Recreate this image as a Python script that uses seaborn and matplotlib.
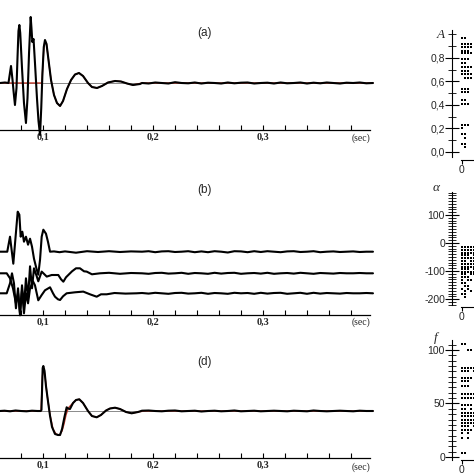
import numpy as np
import matplotlib
matplotlib.use("Agg")
import matplotlib.pyplot as plt
from matplotlib.ticker import MultipleLocator
import seaborn as sns

# ---------------- signal data (time in s, amplitude in arbitrary units) ----------------
TAIL_T = np.arange(0.19, 0.4005, 0.006)

A_T = [.0609, .0654, .0686, .0709, .0723, .0732, .0745, .0759, .0768, .0777, .0785, .0793,
       .0809, .0827, .0845, .0859, .0873, .0888, .0895, .0903, .0914, .0927, .0945, .0959,
       .0973, .0984, .0995, .1007, .1018, .1032, .1050, .1073, .1100, .1127, .1155, .1182,
       .1218, .1255, .1291, .1327, .1364, .1409, .1445, .1491, .1536, .1591, .1655, .1709,
       .1764, .1818, .1882]
A_V = [0, 0.05, 0, 1.7, 0.3, -0.8, -2.2, -0.5, 2.5, 5.2, 5.8, 5.0,
       1.5, -2.0, -4.0, -1.5, 3.0, 6.6, 5.5, 4.1, 4.4, 2.0, -1.5, -3.8,
       -5.2, -2.5, 1.0, 3.6, 4.3, 3.9, 2.3, 0.3, -1.2, -2.0, -2.3, -1.8,
       -0.6, 0.3, 0.85, 1.0, 0.7, 0.0, -0.4, -0.5, -0.3, 0.05, 0.2, 0.15,
       -0.05, -0.2, -0.1]
A_TAIL = [0.0, -0.05, 0.05, 0.0, -0.05, 0.08, 0.0, -0.03, 0.05, -0.05, 0.03, 0.0,
          -0.05, 0.05, -0.03, 0.03, 0.05, -0.05, 0.0, 0.03, -0.05, 0.05, -0.03, 0.0,
          0.05, -0.05, 0.03, -0.03, 0.05, 0.0, -0.05, 0.03, 0.0, 0.05, -0.03, 0.0]
A_RED_T = [.0609, .0990, .1007, .1018, .1032, .1050, .1073, .1100, .1127, .1155, .1182, .1218,
           .1255, .1291, .1327, .1364, .1409, .1445, .1491, .1536, .1591, .1655, .1709, .1764,
           .1818, .1900, .4000]
A_RED_V = [0, 0, 3.4, 4.2, 3.9, 2.3, 0.3, -1.2, -2.0, -2.3, -1.8, -0.6,
           0.3, 0.85, 1.0, 0.7, 0.0, -0.4, -0.5, -0.3, 0.05, 0.2, 0.15, -0.05,
           -0.2, 0, 0]

B_TOP_T = [.0609, .0675, .0700, .0730, .0770, .0785, .0797, .0812, .0827, .0845, .0864, .0882,
           .0900, .0918, .0943, .0957, .0973, .0988, .1003, .1027, .1045, .1064, .1100, .1150,
           .1200, .1300, .1400, .1500, .1600, .1700, .1800]
B_TOP_V = [0, 0, 1.5, -1.2, 4.0, 3.7, 1.5, 2.0, 1.0, 1.5, 0.7, 1.3,
           0.5, -0.7, -1.8, -2.3, -0.8, 1.5, 2.2, 1.8, 1.0, 0.0, 0.03, -0.05,
           0.03, -0.1, 0.05, -0.03, 0.05, -0.03, 0.03]
B_TOP_TAIL = [0.0, 0.05, -0.05, 0.03, 0.05, -0.03, 0.0, 0.05, -0.05, 0.03, -0.05, 0.05,
              0.0, -0.08, 0.05, 0.03, -0.05, 0.05, -0.03, 0.05, 0.0, -0.05, 0.03, 0.05,
              -0.03, 0.0, 0.05, -0.05, 0.0, 0.03, -0.03, 0.0, 0.03, -0.03, 0.0, 0.0]

B_MID_T = [.0609, .0670, .0700, .0727, .0754, .0773, .0791, .0809, .0827, .0845, .0864, .0882,
           .0900, .0918, .0943, .0957, .0988, .1034, .1079, .1139, .1164, .1185, .1209, .1230,
           .1264, .1300, .1336, .1373, .1397, .1445, .1518, .1600, .1700, .1800]
B_MID_V = [0, 0, -0.5, -1.5, -3.0, -2.0, -4.0, -1.2, -3.3, -0.5, -2.5, 0.7,
           -1.5, 0.5, -0.3, -0.8, 0.17, -0.33, -0.17, -0.17, -0.6, -0.84, -0.4, -0.17,
           0.2, 0.5, 0.5, 0.2, 0.17, -0.1, 0.0, 0.05, -0.05, 0.03]
B_MID_TAIL = [0.0, -0.05, 0.03, 0.05, -0.03, 0.0, 0.05, -0.05, 0.03, 0.0, -0.05, 0.05,
              -0.03, 0.03, 0.05, -0.05, 0.0, 0.03, -0.03, 0.05, -0.05, 0.0, 0.03, -0.03,
              0.05, 0.0, -0.05, 0.03, 0.0, -0.03, 0.03, 0.0, 0.0, 0.03, 0.0, 0.0]

B_BOT_T = [.0609, .0670, .0700, .0718, .0736, .0754, .0773, .0791, .0809, .0827, .0845, .0864,
           .0882, .0909, .0927, .0957, .0988, .1018, .1064, .1091, .1109, .1136, .1155, .1182,
           .1215, .1291, .1366, .1427, .1488, .1527, .1579, .1650, .1750, .1850]
B_BOT_V = [0, 0, 1.0, 2.0, 1.0, -1.5, 0.5, -2.2, 0.3, -2.0, 0.0, -1.0,
           0.5, 1.2, 0.8, -0.7, -0.17, 0.3, 0.6, 0.0, -0.34, -0.6, -0.67, -0.3,
           0.0, 0.1, 0.17, -0.1, -0.34, -0.1, -0.1, 0.03, -0.03, 0.0]
B_BOT_TAIL = [0.03, -0.03, 0.05, 0.0, -0.05, 0.03, 0.05, -0.03, 0.0, 0.05, -0.05, 0.03,
              0.0, -0.05, 0.05, 0.0, 0.03, -0.05, 0.05, -0.03, 0.03, 0.05, -0.05, 0.0,
              0.05, -0.05, 0.05, -0.03, 0.03, 0.0, -0.03, 0.03, 0.0, 0.0, 0.03, 0.0]
B_OFFSETS = [2.16, 0.0, -2.0]

D_T = [.0609, .0650, .0700, .0750, .0800, .0850, .0900, .0950, .0979, .0986, .0991, .0997,
       .1003, .1014, .1027, .1045, .1064, .1082, .1109, .1136, .1155, .1173, .1195, .1215,
       .1227, .1245, .1273, .1300, .1330, .1364, .1409, .1445, .1488, .1527, .1573, .1609,
       .1655, .1700, .1755, .1806, .1864]
D_V = [0, 0.03, -0.03, 0.05, 0, -0.03, 0.03, 0, 0, 0.1, 2.0, 4.3,
       4.5, 4.0, 2.5, 1.0, -0.5, -1.6, -2.3, -2.4, -2.4, -1.8, -0.6, 0.37,
       0.25, 0.2, 0.8, 1.1, 1.17, 0.8, 0.0, -0.5, -0.63, -0.4, 0.05, 0.25,
       0.33, 0.2, -0.1, -0.23, -0.1]
D_TAIL = [0.03, 0.05, 0.0, -0.03, 0.03, 0.05, -0.03, 0.0, 0.03, -0.05, 0.0, 0.03,
          -0.03, 0.0, 0.05, -0.03, 0.0, 0.03, -0.03, 0.0, 0.03, 0.0, -0.03, 0.03,
          0.0, -0.03, 0.05, 0.0, -0.03, 0.0, 0.03, 0.0, -0.03, 0.03, 0.0, 0.0]
D_RED_T = [.0609, .0982, .0995, .1005, .1018, .1036, .1064, .1091, .1118, .1150, .1173, .1191,
           .1209, .1230, .1255, .1273, .1300, .1330, .1364, .1409, .1445, .1488, .1527, .1573,
           .1609, .1655, .1700, .1755, .1806, .1864, .1920, .4000]
D_RED_V = [0, 0, 3.5, 4.3, 3.5, 1.7, -0.4, -1.8, -2.3, -2.4, -2.0, -1.3,
           -0.4, 0.3, 0.6, 0.8, 1.1, 1.17, 0.8, 0.0, -0.5, -0.63, -0.4, 0.05,
           0.25, 0.33, 0.2, -0.1, -0.23, -0.1, 0, 0]

X_TICKS = [0.1, 0.2, 0.3]
X_TICK_LABELS = ["0,1", "0,2", "0,3"]
PANEL_TITLES = ["(a)", "(b)", "(d)"]

# ---------------- parameter dot charts (value rows, filled columns) ----------------
AMP_ROWS = [0.97, 0.92, 0.89, 0.86, 0.84, 0.79, 0.76, 0.72, 0.69, 0.66, 0.63,
            0.54, 0.51, 0.44, 0.41, 0.23, 0.20, 0.15, 0.12, 0.07, 0.04]
AMP_COLS = [[0, 1], [0, 1, 2, 3], [0, 1, 2, 3], [0, 1, 2], [0, 1, 2, 3], [0, 1, 2], [0, 1],
            [0, 1, 2, 3], [0, 1, 2], [0, 1, 2, 3], [1, 2, 3],
            [0, 1, 2], [0, 1, 2], [0, 1], [0, 1, 2], [0, 1, 2], [0], [0, 1], [1], [0, 1], [1]]

ALPHA_ROWS = [-14, -24, -34, -44, -54, -64, -74, -84, -94, -104, -112,
              -122, -132, -142, -152, -163, -172, -183, -193]
ALPHA_COLS = [[0, 1, 2, 3, 4], [0, 1, 2, 3, 4], [0, 1, 2, 3, 4], [0, 1, 2, 4], [0, 1, 2, 3, 4],
              [0, 1, 3, 4], [0, 1, 2, 3, 4], [0, 1, 2, 3, 4], [0, 1, 2, 4], [0, 1, 2, 3, 4],
              [0, 1, 3, 4], [0, 1, 2], [0, 2, 3], [0, 1], [1, 2], [0, 2], [1, 3], [0, 1], [1]]

FREQ_ROWS = [106, 100, 83, 80, 74, 71, 66, 59, 55, 49, 45, 41, 38, 35, 32, 29, 25, 22, 18, 4]
FREQ_COLS = [[0, 1], [2, 3], [0, 1, 2, 3, 4], [0, 1, 2, 4], [0, 1, 2, 3], [0, 1, 2], [0, 1, 2],
             [0, 1, 2, 3, 4], [0, 1, 2, 3, 4], [0, 1, 2, 3], [0, 1, 3], [0, 1, 2, 3, 4],
             [0, 1, 2, 3, 4], [0, 1, 2, 3, 4], [0, 1, 2, 3, 4], [0, 1, 2, 4], [0, 1, 2, 3],
             [0, 2], [0, 2], [0, 1]]

sns.set_theme(style="white")
plt.rcParams['font.family'] = ['Liberation Sans', 'DejaVu Sans']

W = H = 474
fig = plt.figure(figsize=(4.74, 4.74), dpi=100)


def px_rect(left, top, right, bottom):
    return [left / W, 1 - bottom / H, (right - left) / W, (bottom - top) / H]


def full(t_head, v_head, tail):
    return np.concatenate([t_head, TAIL_T]), np.concatenate([v_head, tail])


def signal_axes(rect, ylim, sec_y):
    ax = fig.add_axes(rect)
    ax.set_xlim(0.0609, 0.3973)
    ax.set_ylim(*ylim)
    for s in ['left', 'top', 'right']:
        ax.spines[s].set_visible(False)
    ax.spines['bottom'].set_color('black')
    ax.spines['bottom'].set_linewidth(0.9)
    ax.set_yticks([])
    ax.set_xticks(X_TICKS, labels=X_TICK_LABELS, fontweight='bold',
                  fontfamily='Liberation Serif', fontsize=7.5)
    ax.xaxis.set_minor_locator(MultipleLocator(0.02))
    ax.tick_params(axis='x', which='both', direction='in', length=3.5, width=0.8,
                   color='black', pad=2, bottom=True)
    fig.text(361 / W, 1 - sec_y / H, "(sec)", fontfamily='Liberation Serif', fontsize=7,
             ha='center', va='center')
    ax.patch.set_alpha(0)
    return ax


def trace(ax, t, v, color='black', lw=1.5):
    sns.lineplot(x=t, y=v, ax=ax, sort=False, estimator=None, color=color, lw=lw,
                 solid_joinstyle='round', clip_on=False)


# panel (a)
ax_a = signal_axes(px_rect(0, 5, 370, 130), (-4.7, 7.8), 138)
ax_a.axhline(0, color='#777777', lw=0.6)
trace(ax_a, A_RED_T, A_RED_V, color='#c0392b', lw=1.0)
trace(ax_a, *full(A_T, A_V, A_TAIL))

# panel (b)
ax_b = signal_axes(px_rect(0, 165, 370, 315), (-4.17, 10.83), 322)
for (bt, bv, btail), off in zip([(B_TOP_T, B_TOP_V, B_TOP_TAIL),
                                 (B_MID_T, B_MID_V, B_MID_TAIL),
                                 (B_BOT_T, B_BOT_V, B_BOT_TAIL)], B_OFFSETS):
    t, v = full(bt, bv, btail)
    trace(ax_b, t, v + off)

# panel (d)
ax_d = signal_axes(px_rect(0, 335, 370, 458), (-4.7, 7.6), 467)
ax_d.axhline(0, color='#777777', lw=0.6)
trace(ax_d, D_RED_T, D_RED_V, color='#c0392b', lw=1.0)
trace(ax_d, *full(D_T, D_V, D_TAIL))

for title, ty in zip(PANEL_TITLES, [33, 190, 362]):
    fig.text(205 / W, 1 - ty / H, title, ha='center', va='center', fontsize=8.5)


# ---------------- right-hand dot panels ----------------
def dot_axes(rect, ylim, major, minor, label, label_xy, bottom_out, tick_fmt=None):
    ax = fig.add_axes(rect)
    ax.set_xlim(-0.3, 9.7)
    ax.set_ylim(*ylim)
    ax.spines['top'].set_visible(False)
    ax.spines['right'].set_visible(False)
    ax.spines['left'].set_position(('outward', 6.5))
    ax.spines['bottom'].set_position(('outward', bottom_out))
    for s in ['left', 'bottom']:
        ax.spines[s].set_color('black')
        ax.spines[s].set_linewidth(0.8)
    labels = [tick_fmt(m) for m in major] if tick_fmt else [str(m) for m in major]
    ax.set_yticks(major, labels=labels, fontsize=7.5)
    ax.yaxis.set_minor_locator(MultipleLocator(minor))
    ax.tick_params(axis='y', which='major', direction='inout', length=10, width=0.8,
                   color='black', pad=0, left=True)
    ax.tick_params(axis='y', which='minor', direction='inout', length=5.5, width=0.6,
                   color='black', left=True)
    ax.set_xticks([0], labels=['0'], fontsize=7.5)
    ax.tick_params(axis='x', which='major', direction='out', length=3, width=0.8,
                   color='black', pad=0.5, bottom=True)
    ax.patch.set_alpha(0)
    fig.text(label_xy[0] / W, 1 - label_xy[1] / H, label, ha='center', va='center',
             fontsize=9.5, fontstyle='italic', fontfamily='Liberation Serif')
    return ax


def dots(ax, rows, cols):
    xs = [c for r, cs in zip(rows, cols) for c in cs]
    ys = [r for r, cs in zip(rows, cols) for c in cs]
    sns.scatterplot(x=xs, y=ys, ax=ax, marker='s', s=3.2, color='black', linewidth=0,
                    clip_on=False)


ax_amp = dot_axes(px_rect(461, 30, 491, 157), (-0.043, 1.038), [0.0, 0.2, 0.4, 0.6, 0.8],
                  0.1, "A", (441, 35), 2.2, tick_fmt=lambda m: f"{m:.1f}".replace('.', ','))
dots(ax_amp, AMP_ROWS, AMP_COLS)

ax_alpha = dot_axes(px_rect(461, 192, 491, 305), (-221, 182), [-200, -100, 0, 100], 10,
                    "α", (436, 188), 1.5)
dots(ax_alpha, ALPHA_ROWS, ALPHA_COLS)

ax_f = dot_axes(px_rect(461, 340, 491, 460), (-2.8, 109.3), [0, 50, 100], 5,
                "f", (436, 338), 0.0)
dots(ax_f, FREQ_ROWS, FREQ_COLS)

fig.savefig("out.png", dpi=100, facecolor='white')
